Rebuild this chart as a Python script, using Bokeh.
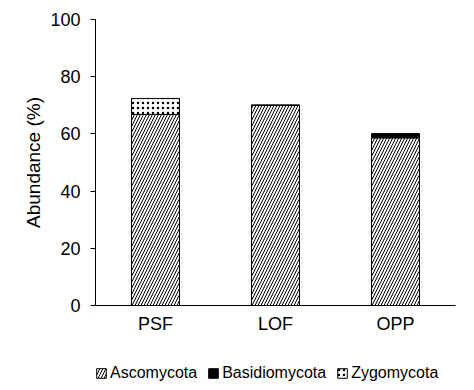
from bokeh.plotting import figure
from bokeh.models import FactorRange, Range1d, Legend, LegendItem
from bokeh.layouts import column
from bokeh.embed import file_html
from bokeh.resources import INLINE

sites = ["PSF", "LOF", "OPP"]
ascomycota = [66.8, 70.0, 58.6]
basidiomycota = [0.0, 0.0, 1.4]
zygomycota = [5.6, 0.0, 0.0]
phyla = ["Ascomycota", "Basidiomycota", "Zygomycota"]
y_ticks = [0, 20, 40, 60, 80, 100]

FONT = "Liberation Sans"
STYLE = dict(width=0.4, fill_color=["white", "black", "white"],
             hatch_pattern=["/", " ", "."], hatch_color="black",
             hatch_scale=[6, 6, 5], hatch_weight=[1, 1, 2],
             line_color="black", line_width=1)

data = dict(sites=sites, Ascomycota=ascomycota, Basidiomycota=basidiomycota, Zygomycota=zygomycota)

p = figure(x_range=FactorRange(*sites, range_padding=0), y_range=Range1d(0, 100),
           frame_width=360, frame_height=286, output_backend="svg", toolbar_location=None,
           min_border_left=95, min_border_right=3, min_border_top=19, min_border_bottom=40)

p.vbar_stack(phyla, x="sites", source=data, **STYLE)

p.grid.visible = False
p.outline_line_color = None
p.background_fill_color = "white"

p.yaxis.ticker = y_ticks
p.yaxis.axis_label = "Abundance (%)"
p.yaxis.axis_label_text_font = FONT
p.yaxis.axis_label_text_font_style = "normal"
p.yaxis.axis_label_text_font_size = "19px"
p.yaxis.axis_label_text_color = "black"
p.yaxis.axis_label_standoff = 3
p.yaxis.major_label_text_font = FONT
p.yaxis.major_label_text_font_size = "18px"
p.yaxis.major_label_text_color = "black"
p.yaxis.major_tick_out = 5
p.yaxis.major_tick_in = 0
p.yaxis.minor_tick_line_color = None
p.yaxis.major_label_standoff = 10
p.yaxis.axis_line_color = "black"
p.yaxis.major_tick_line_color = "black"

p.xaxis.major_label_text_font = FONT
p.xaxis.major_label_text_font_size = "18px"
p.xaxis.major_label_text_color = "black"
p.xaxis.major_tick_line_color = None
p.xaxis.major_tick_out = 0
p.xaxis.major_label_standoff = 8
p.xaxis.axis_line_color = "black"

# legend strip below the chart (its bars sit outside its visible range)
pl = figure(x_range=FactorRange(*sites), y_range=Range1d(1000, 1001),
            width=458, height=42, output_backend="svg", toolbar_location=None,
            x_axis_location=None, y_axis_location=None,
            min_border_left=0, min_border_right=0, min_border_top=0, min_border_bottom=0)
pl.grid.visible = False
pl.outline_line_color = None
leg_renderers = pl.vbar_stack(phyla, x="sites", source=data, **STYLE)

legend = Legend(items=[LegendItem(label=n, renderers=[r]) for n, r in zip(phyla, leg_renderers)],
                orientation="horizontal", location=(0, 5),
                label_text_font=FONT, label_text_font_size="16px", label_text_color="black",
                glyph_width=12, glyph_height=12, label_height=18, label_standoff=3, spacing=10,
                border_line_color=None, background_fill_alpha=0, padding=3, margin=0)
pl.add_layout(legend, "center")

layout = column(p, pl, spacing=0)
open("out.html", "w").write(file_html(layout, INLINE))
